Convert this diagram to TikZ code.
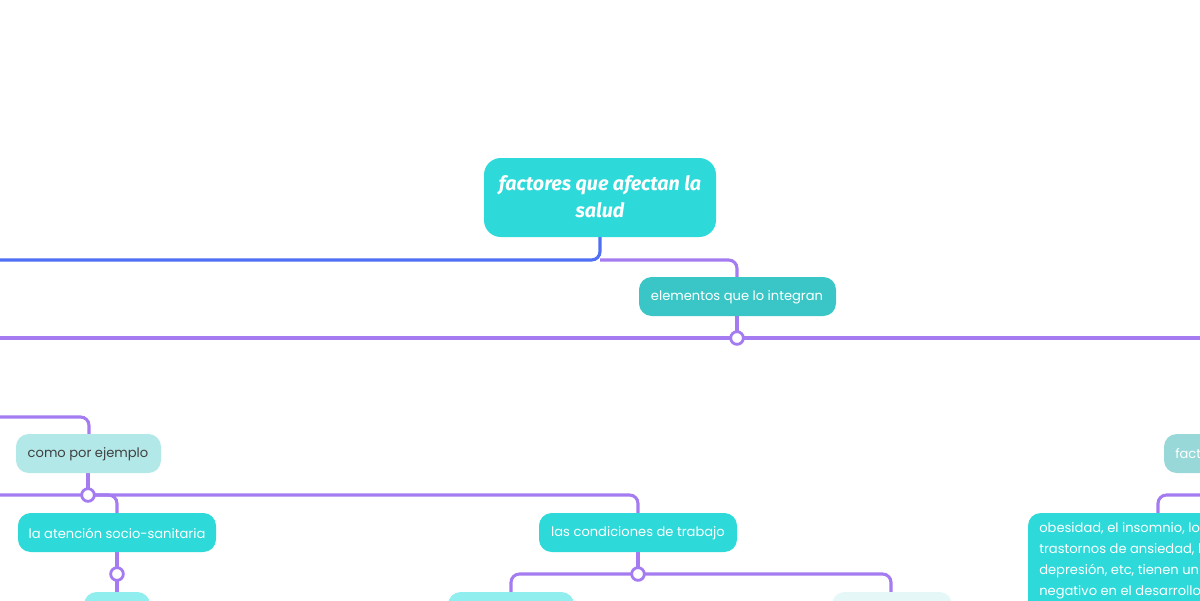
\documentclass[tikz,border=0pt]{standalone}
\usepackage{fontspec}
\setmainfont{Poppins}
\newfontfamily\titlefont{Fira Sans}
\begin{document}
\begin{tikzpicture}[x=0.025cm,y=-0.025cm,
  box/.style={rounded corners=9pt,inner sep=0pt,text=white,font=\fontsize{9.3pt}{13pt}\selectfont},
  pl/.style={draw=lineP,line width=2.2pt,rounded corners=6pt},
  bl/.style={draw=lineB,line width=2.2pt,rounded corners=6pt},
  knob/.style={circle,draw=lineP,line width=2pt,fill=white,minimum size=9pt,inner sep=0pt}]
\definecolor{cy}{HTML}{2ED9D9}
\definecolor{cy2}{HTML}{3AC6C6}
\definecolor{lc}{HTML}{B3E8E8}
\definecolor{c3}{HTML}{90EEEE}
\definecolor{c4}{HTML}{E6F7F7}
\definecolor{c5}{HTML}{98D8D8}
\definecolor{lineP}{HTML}{A47BF0}
\definecolor{lineB}{HTML}{4F6FF5}
\useasboundingbox (0,0) rectangle (1200,600);
\clip (0,0) rectangle (1200,600);
% connectors
\draw[bl] (-10,260) -- (600,260) -- (600,237);
\draw[pl] (600,260) -- (737,260) -- (737,277);
\draw[pl] (737,316) -- (737,338);
\draw[pl] (-10,338) -- (1210,338);
\draw[pl] (-10,417) -- (89,417) -- (89,434);
\draw[pl] (88,473) -- (88,495);
\draw[pl] (-10,495) -- (638,495) -- (638,513);
\draw[pl] (88,495) -- (117,495) -- (117,513);
\draw[pl] (117,552) -- (117,592);
\draw[pl] (638,552) -- (638,574);
\draw[pl] (511,592) -- (511,574) -- (891,574) -- (891,592);
\draw[pl] (1158,513) -- (1158,495) -- (1210,495);
% boxes
\fill[cy,rounded corners=12pt] (484,158) rectangle (716,237);
\node[text=white,align=center,font=\titlefont\itshape\bfseries\fontsize{14pt}{19pt}\selectfont] (t) at (600,197) {factores que afectan la\\salud};
\fill[cy2,rounded corners=9pt] (639,277) rectangle (836,316);
\node[box] (e) at (737,297) {elementos que lo integran};
\fill[lc,rounded corners=9pt] (16,434) rectangle (161,473);
\node[box,text=black!75] (c) at (88,454) {como por ejemplo};
\fill[cy,rounded corners=9pt] (18,513) rectangle (216,552);
\node[box] (a) at (117,533) {la atención socio-sanitaria};
\fill[cy,rounded corners=9pt] (539,513) rectangle (737,552);
\node[box] (l) at (638,533) {las condiciones de trabajo};
\fill[c3,rounded corners=9pt] (84,592) rectangle (150,630);
\fill[c3,rounded corners=9pt] (448,592) rectangle (574,630);
\fill[c4,rounded corners=9pt] (832,592) rectangle (952,630);
\fill[c5,rounded corners=9pt] (1164,434) rectangle (1240,473);
\node[box,anchor=west] (f) at (1175,454) {fact};
\fill[cy,rounded corners=9pt] (1028,513) rectangle (1260,640);
\node[box,anchor=north west,align=left,font=\fontsize{9.3pt}{15pt}\selectfont] (o) at (1039,522) {obesidad, el insomnio, los\\trastornos de ansiedad, la\\depresión, etc, tienen un\\negativo en el desarrollo};
% knobs
\node[knob] at (737,338) {};
\node[knob] at (88,495) {};
\node[knob] at (117,574) {};
\node[knob] at (638,574) {};
\end{tikzpicture}
\end{document}
